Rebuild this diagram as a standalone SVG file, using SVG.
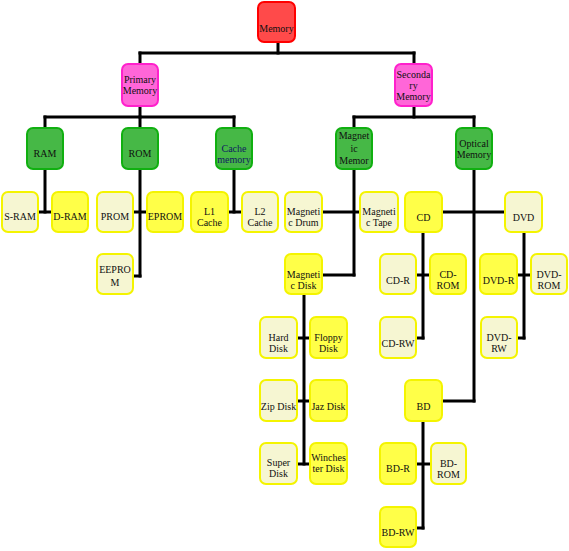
<svg xmlns="http://www.w3.org/2000/svg" width="569" height="551" viewBox="0 0 569 551">
<style>
.b{stroke-width:2}
.red{fill:#ff4a4a;stroke:#ff0000}
.pink{fill:#ff66d8;stroke:#ff20cc}
.green{fill:#46b846;stroke:#10b010}
.yel{fill:#ffff48;stroke:#f4f400}
.pale{fill:#f6f6d2;stroke:#f4f400}
text{font-family:"Liberation Serif","Times New Roman",serif;font-size:10px;fill:#101010;text-anchor:middle}
.c line{stroke:#000;stroke-width:3;stroke-linecap:square}
</style>
<rect width="569" height="551" fill="#fff"/>
<g class="c" id="connectors">
<line x1="278" y1="44" x2="278" y2="53"/>
<line x1="140" y1="53" x2="414" y2="53"/>
<line x1="140" y1="53" x2="140" y2="62"/>
<line x1="414" y1="53" x2="414" y2="62"/>
<line x1="140" y1="108" x2="140" y2="117"/>
<line x1="45" y1="117" x2="234" y2="117"/>
<line x1="45" y1="117" x2="45" y2="126"/>
<line x1="140" y1="117" x2="140" y2="126"/>
<line x1="234" y1="117" x2="234" y2="126"/>
<line x1="414" y1="108" x2="414" y2="117"/>
<line x1="354" y1="117" x2="474" y2="117"/>
<line x1="354" y1="117" x2="354" y2="126"/>
<line x1="474" y1="117" x2="474" y2="126"/>
<line x1="45" y1="171" x2="45" y2="212"/>
<line x1="40" y1="212" x2="50" y2="212"/>
<line x1="140" y1="171" x2="140" y2="276"/>
<line x1="135" y1="212" x2="145" y2="212"/>
<line x1="135" y1="276" x2="140" y2="276"/>
<line x1="234" y1="171" x2="234" y2="212"/>
<line x1="230" y1="212" x2="240" y2="212"/>
<line x1="354" y1="171" x2="354" y2="275"/>
<line x1="324" y1="212" x2="358" y2="212"/>
<line x1="324" y1="275" x2="354" y2="275"/>
<line x1="474" y1="171" x2="474" y2="401"/>
<line x1="444" y1="212" x2="503" y2="212"/>
<line x1="444" y1="401" x2="474" y2="401"/>
<line x1="304" y1="296" x2="304" y2="464"/>
<line x1="299" y1="338" x2="308" y2="338"/>
<line x1="299" y1="401" x2="308" y2="401"/>
<line x1="299" y1="464" x2="308" y2="464"/>
<line x1="423" y1="234" x2="423" y2="338"/>
<line x1="418" y1="275" x2="428" y2="275"/>
<line x1="418" y1="338" x2="423" y2="338"/>
<line x1="524" y1="234" x2="524" y2="338"/>
<line x1="519" y1="275" x2="529" y2="275"/>
<line x1="519" y1="338" x2="524" y2="338"/>
<line x1="423" y1="423" x2="423" y2="528"/>
<line x1="418" y1="464" x2="429" y2="464"/>
<line x1="418" y1="528" x2="423" y2="528"/>
</g>
<g id="memory"><rect class="b red" x="258" y="2" width="37" height="40" rx="6"/><text x="276.5" y="32">Memory</text></g>
<g id="primary"><rect class="b pink" x="122" y="64" width="36" height="42" rx="6"/><text x="140" y="83">Primary</text><text x="140" y="94">Memory</text></g>
<g id="secondary"><rect class="b pink" x="395" y="64" width="37" height="42" rx="6"/><text x="413.5" y="78">Seconda</text><text x="413.5" y="89">ry</text><text x="413.5" y="100">Memory</text></g>
<g id="ram"><rect class="b green" x="27" y="128" width="36" height="41" rx="6"/><text x="45" y="157">RAM</text></g>
<g id="rom"><rect class="b green" x="122" y="128" width="36" height="41" rx="6"/><text x="140" y="157">ROM</text></g>
<g id="cache"><rect class="b green" x="216" y="128" width="36" height="41" rx="6"/><text x="234" y="152" style="fill:#102060">Cache</text><text x="234" y="163" style="fill:#102060">memory</text></g>
<g id="magmem"><rect class="b green" x="336" y="128" width="36" height="41" rx="6"/><text x="354" y="139">Magnet</text><text x="354" y="152">ic</text><text x="354" y="164">Memor</text></g>
<g id="optical"><rect class="b green" x="456" y="128" width="36" height="41" rx="6"/><text x="474" y="147">Optical</text><text x="474" y="158">Memory</text></g>
<g id="sram"><rect class="b pale" x="2" y="192" width="36" height="40" rx="6"/><text x="20" y="220">S-RAM</text></g>
<g id="dram"><rect class="b yel" x="52" y="192" width="36" height="40" rx="6"/><text x="70" y="220">D-RAM</text></g>
<g id="prom"><rect class="b pale" x="97" y="192" width="36" height="40" rx="6"/><text x="115" y="220">PROM</text></g>
<g id="eprom"><rect class="b yel" x="147" y="192" width="36" height="40" rx="6"/><text x="165" y="220">EPROM</text></g>
<g id="l1"><rect class="b yel" x="191" y="192" width="37" height="40" rx="6"/><text x="209.5" y="215">L1</text><text x="209.5" y="226">Cache</text></g>
<g id="l2"><rect class="b pale" x="242" y="192" width="36" height="40" rx="6"/><text x="260" y="215">L2</text><text x="260" y="226">Cache</text></g>
<g id="drum"><rect class="b pale" x="285" y="192" width="37" height="40" rx="6"/><text x="303.5" y="215">Magneti</text><text x="303.5" y="226">c Drum</text></g>
<g id="tape"><rect class="b pale" x="360" y="192" width="38" height="40" rx="6"/><text x="379" y="215">Magneti</text><text x="379" y="226">c Tape</text></g>
<g id="cd"><rect class="b yel" x="405" y="192" width="37" height="40" rx="6"/><text x="423.5" y="221">CD</text></g>
<g id="dvd"><rect class="b pale" x="505" y="192" width="37" height="40" rx="6"/><text x="523.5" y="221">DVD</text></g>
<g id="eeprom"><rect class="b pale" x="97" y="254" width="36" height="40" rx="6"/><text x="115" y="273">EEPRO</text><text x="115" y="286">M</text></g>
<g id="magdisk"><rect class="b yel" x="285" y="254" width="37" height="40" rx="6"/><text x="303.5" y="278">Magneti</text><text x="303.5" y="289">c Disk</text></g>
<g id="cdr"><rect class="b pale" x="380" y="254" width="36" height="40" rx="6"/><text x="398" y="284">CD-R</text></g>
<g id="cdrom"><rect class="b yel" x="430" y="254" width="36" height="40" rx="6"/><text x="448" y="278">CD-</text><text x="448" y="289">ROM</text></g>
<g id="dvdr"><rect class="b yel" x="480" y="254" width="37" height="40" rx="6"/><text x="498.5" y="284">DVD-R</text></g>
<g id="dvdrom"><rect class="b pale" x="531" y="254" width="36" height="40" rx="6"/><text x="549" y="278">DVD-</text><text x="549" y="289">ROM</text></g>
<g id="hard"><rect class="b pale" x="260" y="317" width="37" height="41" rx="6"/><text x="278.5" y="341">Hard</text><text x="278.5" y="352">Disk</text></g>
<g id="floppy"><rect class="b yel" x="310" y="317" width="37" height="41" rx="6"/><text x="328.5" y="341">Floppy</text><text x="328.5" y="352">Disk</text></g>
<g id="cdrw"><rect class="b pale" x="380" y="317" width="36" height="41" rx="6"/><text x="398" y="347">CD-RW</text></g>
<g id="dvdrw"><rect class="b pale" x="481" y="317" width="36" height="41" rx="6"/><text x="499" y="341">DVD-</text><text x="499" y="352">RW</text></g>
<g id="zip"><rect class="b pale" x="260" y="380" width="37" height="41" rx="6"/><text x="278.5" y="410">Zip Disk</text></g>
<g id="jaz"><rect class="b yel" x="310" y="380" width="37" height="41" rx="6"/><text x="328.5" y="410">Jaz Disk</text></g>
<g id="bd"><rect class="b yel" x="405" y="380" width="37" height="41" rx="6"/><text x="423.5" y="410">BD</text></g>
<g id="super"><rect class="b pale" x="260" y="443" width="37" height="41" rx="6"/><text x="278.5" y="466">Super</text><text x="278.5" y="477">Disk</text></g>
<g id="winchester"><rect class="b yel" x="310" y="443" width="37" height="41" rx="6"/><text x="328.5" y="461">Winches</text><text x="328.5" y="472">ter Disk</text></g>
<g id="bdr"><rect class="b yel" x="380" y="443" width="36" height="41" rx="6"/><text x="398" y="472">BD-R</text></g>
<g id="bdrom"><rect class="b pale" x="431" y="443" width="35" height="41" rx="6"/><text x="448.5" y="467">BD-</text><text x="448.5" y="478">ROM</text></g>
<g id="bdrw"><rect class="b yel" x="380" y="507" width="36" height="40" rx="6"/><text x="398" y="536">BD-RW</text></g>
</svg>
